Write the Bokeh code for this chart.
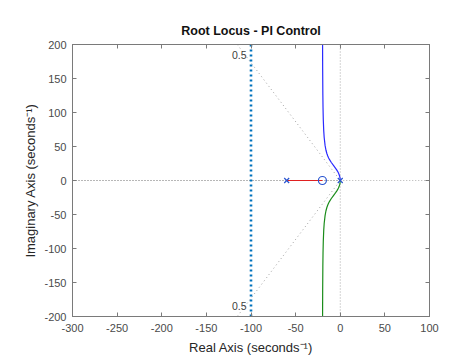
from bokeh.plotting import figure
from bokeh.models import (LinearAxis, SingleIntervalTicker, Label, Range1d,
                          CustomJSTickFormatter)
from bokeh.embed import file_html
from bokeh.resources import INLINE

# ---- data ----
title_text = "Root Locus - PI Control"
x_label = "Real Axis (seconds\u207b\u00b9)"
y_label = "Imaginary Axis (seconds\u207b\u00b9)"
x_range = (-300, 100)
y_range = (-200, 200)
tick_step = 50

# upper complex branch (blue), lower is its mirror (green)
branch_re = [0, -0.2, -0.5, -1, -2, -3, -4, -5, -6, -8, -10, -12, -13, -14,
             -15, -16, -17, -18, -18.5, -19, -19.3, -19.5, -19.7, -19.8, -19.87]
branch_im = [0, 3.46, 5.48, 7.75, 10.98, 13.48, 15.62, 17.56, 19.38, 22.86,
             26.46, 30.6, 33.07, 36.0, 39.7, 44.5, 51.6, 63.2, 73.0, 89.4,
             106.9, 126.5, 163.3, 200, 248]
branch_im_low = [-v for v in branch_im]
# real-axis branch (red)
real_branch_re = [-60, -20]
real_branch_im = [0, 0]

pole_re = [-60, 0]
pole_im = [0, 0]
zero_re = [-20]
zero_im = [0]

# damping-ratio grid line (zeta = 0.5)
zeta_label = "0.5"
zeta_re = [-115.47, 0, -115.47]
zeta_im = [200, 0, -200]
zeta_label_re = -105
zeta_label_im = [184, -184]

# design boundary (vertical dotted line)
bound_re = [-100, -100]
bound_im = [-200, 200]

p = figure(frame_width=357, frame_height=272, output_backend="svg", toolbar_location=None,
           x_range=Range1d(*x_range), y_range=Range1d(*y_range),
           min_border_left=72, min_border_right=45,
           min_border_top=44, min_border_bottom=39,
           background_fill_color="white", border_fill_color="white")
p.grid.visible = False
p.outline_line_color = "#7a7a7a"
p.outline_line_width = 1

axis_color = "#7a7a7a"
label_color = "#4a4a4a"
font = "Liberation Sans"
plain = CustomJSTickFormatter(code="return tick.toString()")

for ax in (p.xaxis[0], p.yaxis[0]):
    ax.ticker = SingleIntervalTicker(interval=tick_step)
    ax.formatter = plain
    ax.major_tick_in = 4
    ax.major_tick_out = 0
    ax.minor_tick_in = 0
    ax.minor_tick_out = 0
    ax.axis_line_color = axis_color
    ax.major_tick_line_color = axis_color
    ax.major_label_text_color = label_color
    ax.major_label_text_font = font
    ax.major_label_text_font_size = "11px"
    ax.axis_label_text_font = font
    ax.axis_label_text_font_size = "13px"
    ax.axis_label_text_font_style = "normal"
    ax.axis_label_text_color = "#262626"

p.xaxis[0].axis_label = x_label
p.yaxis[0].axis_label = y_label
p.xaxis[0].major_label_standoff = 7
p.xaxis[0].axis_label_standoff = 5
p.yaxis[0].major_label_standoff = 6
p.yaxis[0].axis_label_standoff = 3

empty = CustomJSTickFormatter(code="return ''")
for loc in ("above", "right"):
    ax = LinearAxis(ticker=SingleIntervalTicker(interval=tick_step),
                    formatter=empty, major_tick_in=4, major_tick_out=0,
                    minor_tick_in=0, minor_tick_out=0,
                    axis_line_color=axis_color, major_tick_line_color=axis_color,
                    major_label_standoff=0)
    p.add_layout(ax, loc)

# title
p.title.text = title_text
p.title.align = "center"
p.title.text_font = font
p.title.text_font_size = "12.5px"
p.title.text_font_style = "bold"
p.title.text_color = "#111111"
p.title.standoff = 13

# reference dotted lines (real / imaginary axes)
p.line([x_range[0], 0], [0, 0], line_color="#6e6e6e", line_width=1, line_dash="1 2")
p.line([0, x_range[1]], [0, 0], line_color="#b0b0b0", line_width=1, line_dash="1 2")
p.line([0, 0], list(y_range), line_color="#a8a8a8", line_width=1, line_dash="1 2")

# damping grid
p.line(zeta_re, zeta_im, line_color="#a0a0a0", line_width=1, line_dash="1 3")
for yy in zeta_label_im:
    p.add_layout(Label(x=zeta_label_re, y=yy, text=zeta_label, text_align="right",
                       text_baseline="middle", text_font=font, text_font_size="10.5px",
                       text_color="#404040"))

# design boundary
p.line(bound_re, bound_im, line_color="#0072BD", line_width=2.6, line_dash="2 3")

# locus branches
p.line(branch_re, branch_im, line_color="#2a2aff", line_width=1.2)
p.line(branch_re, branch_im_low, line_color="#1a8c1a", line_width=1.2)
p.line(real_branch_re, real_branch_im, line_color="#e02020", line_width=1.2)

# poles and zeros
p.scatter(pole_re, pole_im, marker="x", size=7, line_color="#2a55d0", line_width=1.2)
p.scatter(zero_re, zero_im, marker="circle", size=8, fill_color=None,
          line_color="#2a55d0", line_width=1.2)

open("out.html", "w").write(file_html(p, INLINE))
